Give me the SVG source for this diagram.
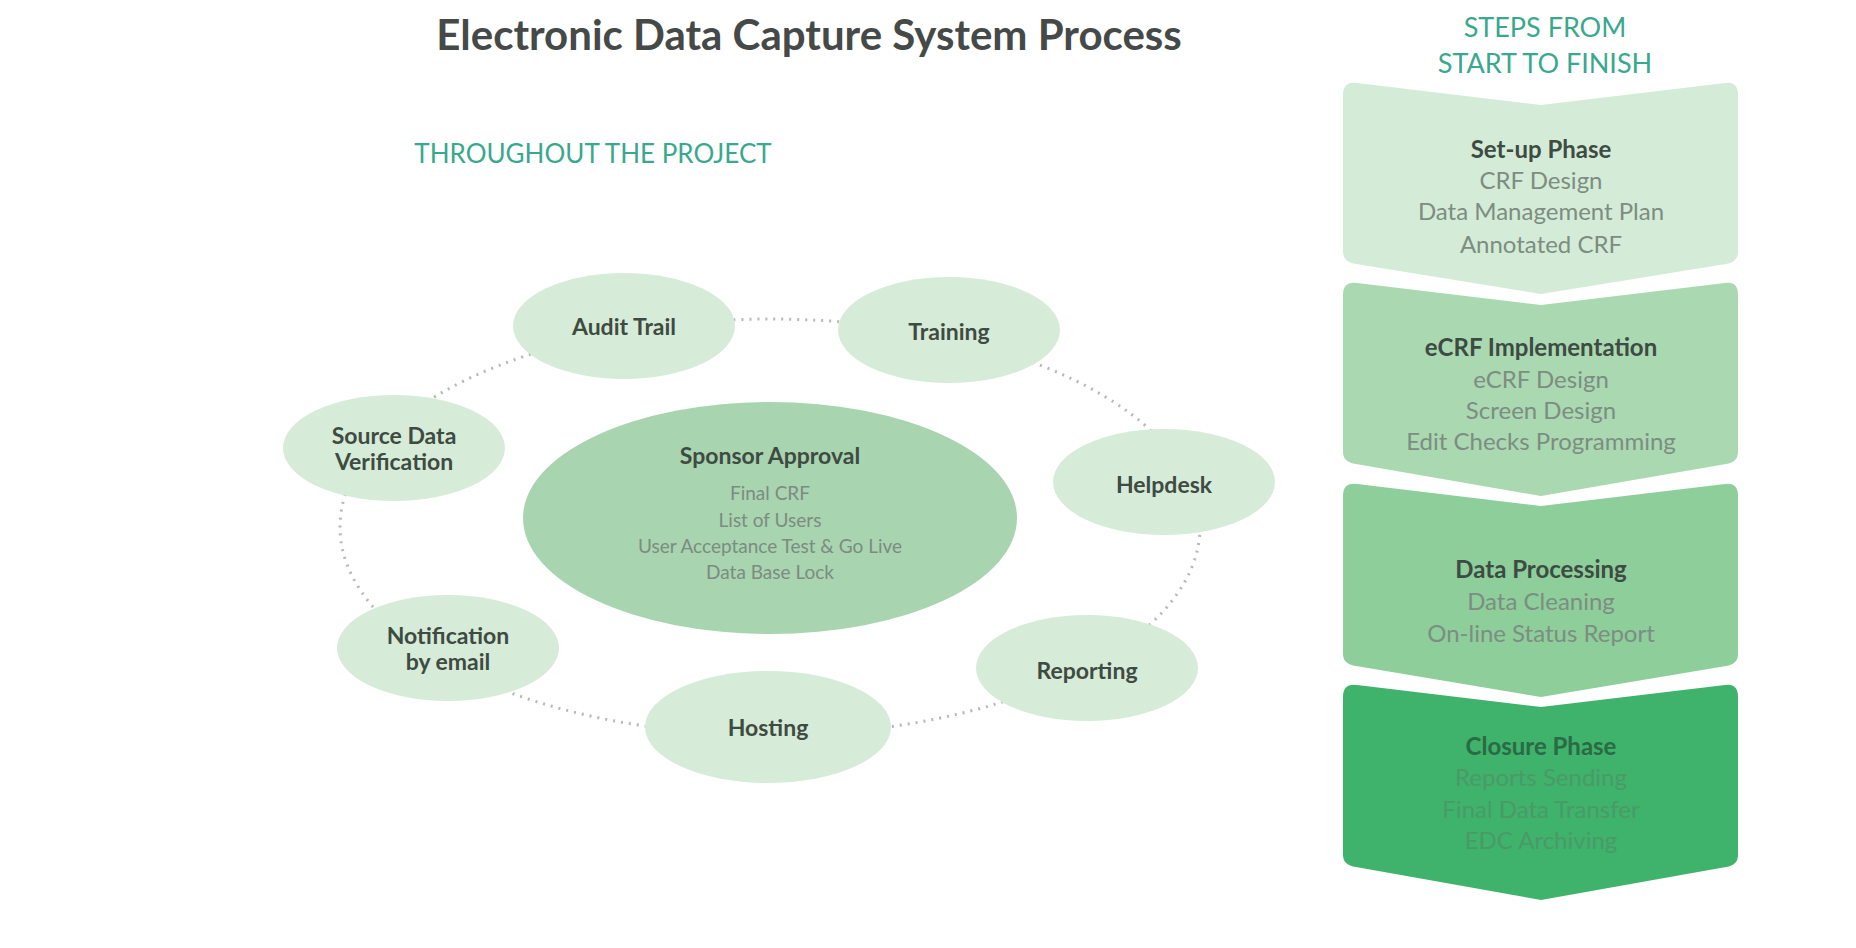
<svg xmlns="http://www.w3.org/2000/svg" width="1856" height="948" viewBox="0 0 1856 948">
<style>
text{font-family:Lato,"Open Sans","Liberation Sans",sans-serif;text-anchor:middle}
.title{font-size:42px;font-weight:bold;fill:#454a48}
.teal{font-size:27px;fill:#3aa88e}
.sat{fill:#d6ebd8}
.lbl{font-size:23px;font-weight:bold;fill:#3e4b42}
.sub{font-size:19px;fill:#7c8c80}
.ph{font-size:24px;font-weight:bold;fill:#3e4b42}
.it{font-size:24px;fill:#7d8d81}
</style>
<rect width="1856" height="948" fill="#fff"/>
<text class="title" x="809" y="50">Electronic Data Capture System Process</text>
<text class="teal" x="1545" y="37">STEPS FROM</text>
<text class="teal" x="1545" y="73">START TO FINISH</text>
<text class="teal" x="593" y="163" style="font-size:26px">THROUGHOUT THE PROJECT</text>
<g id="connectors">
<ellipse cx="770" cy="527" rx="430" ry="208" fill="none" stroke="#b5bab6" stroke-width="3" stroke-dasharray="2 6"/>
</g>
<g id="sponsor"><ellipse cx="770" cy="518" rx="247" ry="116" fill="#a8d4b0"/>
<text class="lbl" x="770" y="464">Sponsor Approval</text>
<text class="sub" x="770" y="500">Final CRF</text><text class="sub" x="770" y="527">List of Users</text>
<text class="sub" x="770" y="553">User Acceptance Test &amp; Go Live</text><text class="sub" x="770" y="579">Data Base Lock</text></g>
<g id="audit"><ellipse class="sat" cx="624" cy="326" rx="111" ry="53"/><text class="lbl" x="624" y="335">Audit Trail</text></g>
<g id="training"><ellipse class="sat" cx="949" cy="330" rx="111" ry="53"/><text class="lbl" x="949" y="340">Training</text></g>
<g id="sdv"><ellipse class="sat" cx="394" cy="448" rx="111" ry="53"/><text class="lbl" x="394" y="444">Source Data</text><text class="lbl" x="394" y="470">Verification</text></g>
<g id="helpdesk"><ellipse class="sat" cx="1164" cy="482" rx="111" ry="53"/><text class="lbl" x="1164" y="493">Helpdesk</text></g>
<g id="notification"><ellipse class="sat" cx="448" cy="648" rx="111" ry="53"/><text class="lbl" x="448" y="644">Notification</text><text class="lbl" x="448" y="670">by email</text></g>
<g id="reporting"><ellipse class="sat" cx="1087" cy="668" rx="111" ry="53"/><text class="lbl" x="1087" y="679">Reporting</text></g>
<g id="hosting"><ellipse class="sat" cx="768" cy="727" rx="123" ry="56"/><text class="lbl" x="768" y="736">Hosting</text></g>
<g id="setup"><path d="M1343,95 Q1343,81 1357,83 L1541,105 L1725,83 Q1738,81 1738,95 L1738,252 Q1738,262 1726,264 L1541,294 L1356,264 Q1343,262 1343,252 Z" fill="#d4ebd7"/>
<text class="ph" x="1541" y="158">Set-up Phase</text><text class="it" x="1541" y="189">CRF Design</text><text class="it" x="1541" y="220">Data Management Plan</text><text class="it" x="1541" y="253">Annotated CRF</text></g>
<g id="ecrf"><path d="M1343,295 Q1343,281 1357,283 L1541,305 L1725,283 Q1738,281 1738,295 L1738,452 Q1738,462 1726,464 L1541,496 L1356,464 Q1343,462 1343,452 Z" fill="#a9d8b1"/>
<text class="ph" x="1541" y="356">eCRF Implementation</text><text class="it" x="1541" y="388">eCRF Design</text><text class="it" x="1541" y="419">Screen Design</text><text class="it" x="1541" y="450">Edit Checks Programming</text></g>
<g id="processing"><path d="M1343,496 Q1343,482 1357,484 L1541,506 L1725,484 Q1738,482 1738,496 L1738,654 Q1738,664 1726,666 L1541,697 L1356,666 Q1343,664 1343,654 Z" fill="#8dce9b"/>
<text class="ph" x="1541" y="578">Data Processing</text><text class="it" x="1541" y="610">Data Cleaning</text><text class="it" x="1541" y="642">On-line Status Report</text></g>
<g id="closure"><path d="M1343,697 Q1343,683 1357,685 L1541,707 L1725,685 Q1738,683 1738,697 L1738,855 Q1738,865 1726,867 L1541,900 L1356,867 Q1343,865 1343,855 Z" fill="#3fb26c"/>
<text class="ph" x="1541" y="755" style="fill:#2a6a44">Closure Phase</text><text class="it" x="1541" y="786" style="fill:#4a9a68">Reports Sending</text><text class="it" x="1541" y="818" style="fill:#4a9a68">Final Data Transfer</text><text class="it" x="1541" y="849" style="fill:#4a9a68">EDC Archiving</text></g>
</svg>
